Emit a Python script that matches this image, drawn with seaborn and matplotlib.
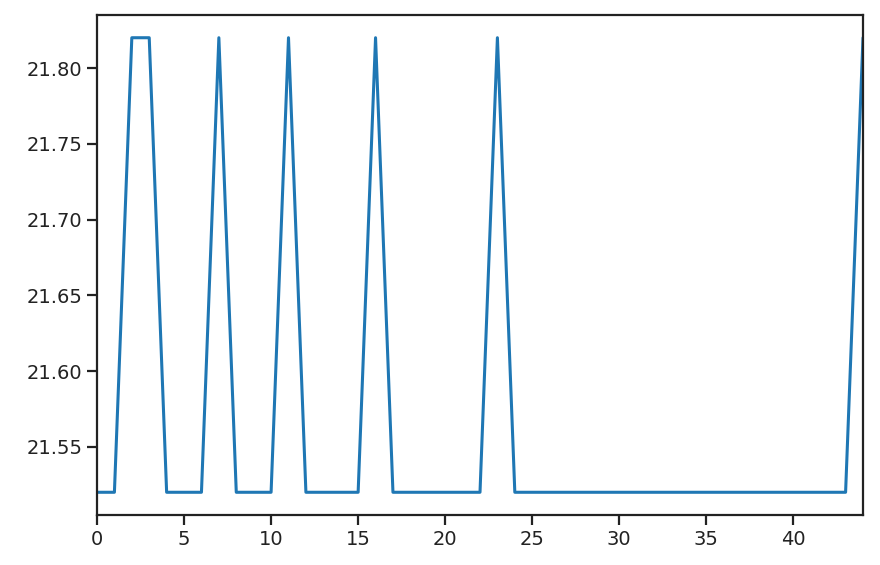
import matplotlib
matplotlib.use("Agg")
import matplotlib.pyplot as plt
import seaborn as sns
import pandas as pd

x_values = list(range(45))
low = 21.52
high = 21.82
peak_positions = [2, 3, 7, 11, 16, 23, 44]
y_values = [21.52, 21.52, 21.82, 21.82, 21.52, 21.52, 21.52, 21.82, 21.52, 21.52,
            21.52, 21.82, 21.52, 21.52, 21.52, 21.52, 21.82, 21.52, 21.52, 21.52,
            21.52, 21.52, 21.52, 21.82, 21.52, 21.52, 21.52, 21.52, 21.52, 21.52,
            21.52, 21.52, 21.52, 21.52, 21.52, 21.52, 21.52, 21.52, 21.52, 21.52,
            21.52, 21.52, 21.52, 21.52, 21.82]

df = pd.DataFrame({"x": x_values, "y": y_values})

sns.set_style("ticks")
plt.rcParams['font.family'] = ['DejaVu Sans']

fig = plt.figure(figsize=(8.8, 5.65), dpi=100)
ax = fig.add_axes([97/880, 50/565, 766/880, 500/565])
sns.lineplot(data=df, x="x", y="y", ax=ax, color="#1f77b4", linewidth=2.2)
ax.set_xlim(0, 44)
ax.set_ylim(21.505, 21.835)
ax.set_xlabel("")
ax.set_ylabel("")
ax.set_xticks([0, 5, 10, 15, 20, 25, 30, 35, 40])
ax.set_yticks([21.55, 21.60, 21.65, 21.70, 21.75, 21.80])
ax.set_yticklabels([f"{v:.2f}" for v in [21.55, 21.60, 21.65, 21.70, 21.75, 21.80]])
ax.tick_params(labelsize=14, width=1.6, length=7, color="#222222", labelcolor="#222222")
for s in ax.spines.values():
    s.set_linewidth(1.6)
    s.set_color("#222222")
    s.set_visible(True)
fig.savefig("out.png", dpi=100)
